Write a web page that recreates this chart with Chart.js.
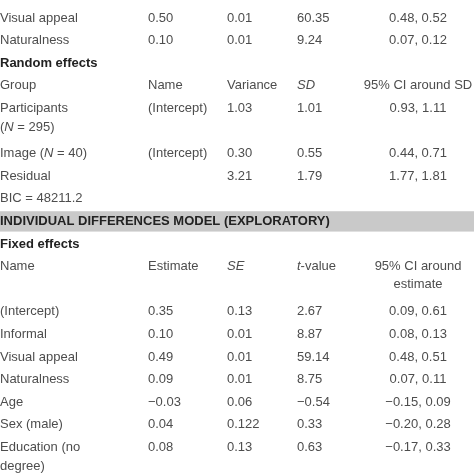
<!DOCTYPE html>
<html><head><meta charset="utf-8">
<script src="https://cdn.jsdelivr.net/npm/chart.js@4"></script>
<style>html,body{margin:0;padding:0;background:#fff}#c{width:474px;height:474px}</style>
</head><body><div id="c"><canvas id="cv"></canvas></div>
<script>
// Table content (italic segments wrapped in _..._)
const rowsCol0 = ["Visual appeal","Naturalness","**Random effects","Group","Participants","(_N_ = 295)","Image (_N_ = 40)","Residual","BIC = 48211.2","**INDIVIDUAL DIFFERENCES MODEL (EXPLORATORY)","**Fixed effects","Name","","(Intercept)","Informal","Visual appeal","Naturalness","Age","Sex (male)","Education (no","degree)"];
const rowsCol1 = ["0.50","0.10","","Name","(Intercept)","","(Intercept)","","","","","Estimate","","0.35","0.10","0.49","0.09","\u22120.03","0.04","0.08",""];
const rowsCol2 = ["0.01","0.01","","Variance","1.03","","0.30","3.21","","","","_SE_","","0.13","0.01","0.01","0.01","0.06","0.122","0.13",""];
const rowsCol3 = ["60.35","9.24","","_SD_","1.01","","0.55","1.79","","","","_t_-value","","2.67","8.87","59.14","8.75","\u22120.54","0.33","0.63",""];
const rowsCol4 = ["0.48, 0.52","0.07, 0.12","","95% CI around SD","0.93, 1.11","","0.44, 0.71","1.77, 1.81","","","","95% CI around","estimate","0.09, 0.61","0.08, 0.13","0.48, 0.51","0.07, 0.11","\u22120.15, 0.09","\u22120.20, 0.28","\u22120.17, 0.33",""];
const bandRow = 9;

const cols = [rowsCol0, rowsCol1, rowsCol2, rowsCol3, rowsCol4];
const colX = [0, 148, 227, 297, 418];
const colAlign = ['left','left','left','left','center'];
// wrapped continuation lines sit slightly closer
const rowY = rowsCol0.map((_, i) => i === 5 ? 4.83 : i === 12 ? 11.8 : i === 20 ? 19.82 : i);

function drawSeg(ctx, text, x, y, align, bold) {
  const parts = text.split('_');
  const fontFor = (it) => (it ? 'italic ' : '') + (bold ? 'bold ' : '') + '13px "Liberation Sans", Arial, sans-serif';
  let total = 0;
  parts.forEach((p, k) => { ctx.font = fontFor(k % 2 === 1); total += ctx.measureText(p).width; });
  let cx = align === 'center' ? x - total / 2 : x;
  parts.forEach((p, k) => { ctx.font = fontFor(k % 2 === 1); ctx.fillText(p, cx, y); cx += ctx.measureText(p).width; });
}

const tablePlugin = {
  id: 'table',
  afterDraw(chart) {
    const ctx = chart.ctx, xs = chart.scales.x, ys = chart.scales.y;
    ctx.save();
    ctx.fillStyle = '#c9c9c9';
    const t = ys.getPixelForValue(bandRow - 0.45), b = ys.getPixelForValue(bandRow + 0.45);
    ctx.fillRect(xs.getPixelForValue(0), t, xs.getPixelForValue(474) - xs.getPixelForValue(0), b - t);
    ctx.textBaseline = 'middle';
    cols.forEach((col, c) => {
      col.forEach((txt, i) => {
        if (!txt) return;
        let bold = false, s = txt;
        if (s.startsWith('**')) { bold = true; s = s.slice(2); }
        ctx.fillStyle = bold ? '#222' : '#4d4d4d';
        drawSeg(ctx, s, xs.getPixelForValue(colX[c]), ys.getPixelForValue(rowY[i]), colAlign[c], bold);
      });
    });
    ctx.restore();
  }
};

new Chart(document.getElementById('cv'), {
  type: 'scatter',
  data: { datasets: [{ data: [], pointRadius: 0 }] },
  options: {
    responsive: true, maintainAspectRatio: false, animation: false,
    layout: { padding: 0 },
    plugins: { legend: { display: false }, tooltip: { enabled: false } },
    scales: {
      x: { type: 'linear', min: 0, max: 474, display: false },
      y: { type: 'linear', min: -18 / 22.6, max: 456 / 22.6, reverse: true, display: false }
    }
  },
  plugins: [tablePlugin]
});
</script></body></html>
